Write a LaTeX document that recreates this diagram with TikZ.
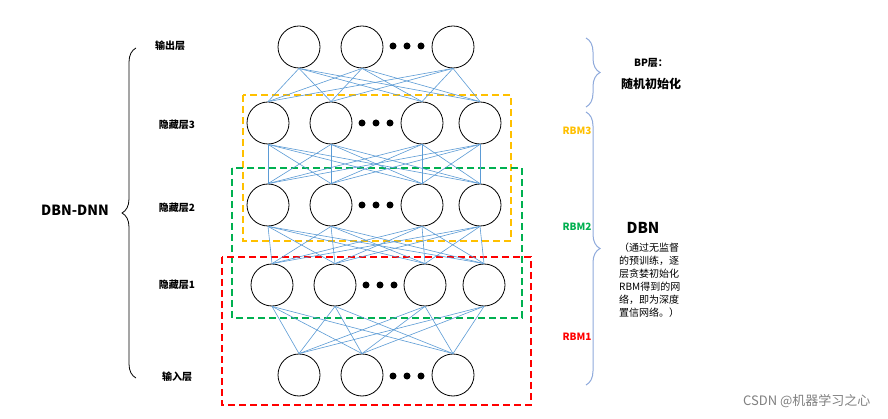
\documentclass[tikz,border=0pt]{standalone}
\usepackage{fontspec}
\setmainfont{Noto Sans CJK SC}
\usetikzlibrary{decorations.pathreplacing}
\definecolor{lk}{RGB}{91,155,213}
\definecolor{yb}{RGB}{255,192,0}
\definecolor{gb}{RGB}{0,176,80}
\definecolor{rb}{RGB}{255,0,0}
\definecolor{br}{RGB}{143,170,220}
\begin{document}
\begin{tikzpicture}[x=1pt,y=-1pt,
  neu/.style={circle,draw=black,fill=white,minimum size=42pt,inner sep=0pt,line width=0.8pt},
  lnk/.style={draw=lk,line width=0.6pt},
  dot/.style={circle,fill=black,minimum size=7pt,inner sep=0pt},
  box/.style={dashed,dash pattern=on 7pt off 4pt,line width=1.2pt},
  lab/.style={font=\fontsize{10}{11}\selectfont\bfseries},
  brc/.style={decorate,decoration={brace,amplitude=14pt},line width=1pt}]
\useasboundingbox (0,0) rectangle (888,419);
\fill[white] (0,0) rectangle (888,419);
% boxes
\draw[box,yb] (243,95) rectangle (511,241);
\draw[box,gb] (232,168) rectangle (522,318);
\draw[box,rb] (222,257) rectangle (531,405);
% neurons
\foreach \n/\x in {1/299,2/362,3/453} \node[neu] (o\n) at (\x,47) {};
\foreach \n/\x in {1/268,2/331,3/422,4/480} \node[neu] (a\n) at (\x,123) {};
\foreach \n/\x in {1/268,2/331,3/422,4/480} \node[neu] (b\n) at (\x,205) {};
\foreach \n/\x in {1/272,2/335,3/425,4/484} \node[neu] (c\n) at (\x,285) {};
\foreach \n/\x in {1/299,2/362,3/453} \node[neu] (i\n) at (\x,375) {};
% links
\foreach \u in {1,2,3} \foreach \v in {1,2,3,4} \draw[lnk] (o\u.south) -- (a\v.north);
\foreach \u in {1,2,3,4} \foreach \v in {1,2,3,4} \draw[lnk] (a\u.south) -- (b\v.north);
\foreach \u in {1,2,3,4} \foreach \v in {1,2,3,4} \draw[lnk] (b\u.south) -- (c\v.north);
\foreach \u in {1,2,3,4} \foreach \v in {1,2,3} \draw[lnk] (c\u.south) -- (i\v.north);
% dots
\foreach \y/\s in {46/393,123/362,205/362,285/366,376/393}
  \foreach \k in {0,14,28} \node[dot] at (\s+\k,\y) {};
% left labels
\node[lab] (t1) at (170,46) {输出层};
\node[lab] (t2) at (177,125) {隐藏层3};
\node[lab] (t3) at (177,208) {隐藏层2};
\node[lab] (t4) at (177,285) {隐藏层1};
\node[lab] (t5) at (177,377) {输入层};
\node[font=\fontsize{14}{15}\selectfont\bfseries] (dd) at (75,210) {DBN-DNN};
\draw[brc,black,line width=0.8pt] (136,378) -- (136,48);
% right
\draw[brc,br] (586,38) -- (586,107);
\draw[brc,br] (586,112) -- (586,385);
\node[lab] (bp) at (651,63) {BP层：};
\node[font=\fontsize{12}{13}\selectfont\bfseries] (sj) at (651,84) {随机初始化};
\node[lab,text=yb] (r3) at (577,131) {RBM3};
\node[lab,text=gb] (r2) at (577,227) {RBM2};
\node[lab,text=rb] (r1) at (577,337) {RBM1};
\node[font=\fontsize{15}{16}\selectfont\bfseries] (dbn) at (643,228) {DBN};
\node[font=\fontsize{10}{13}\selectfont,align=left,anchor=north west,inner sep=0pt] (desc) at (619,243)
 {（通过无监督\\的预训练，逐\\层贪婪初始化\\RBM得到的网\\络，即为深度\\置信网络。）};
\node[font=\fontsize{13}{14}\selectfont,text=gray,anchor=east] (wm) at (874,401) {CSDN @机器学习之心};
\end{tikzpicture}
\end{document}
